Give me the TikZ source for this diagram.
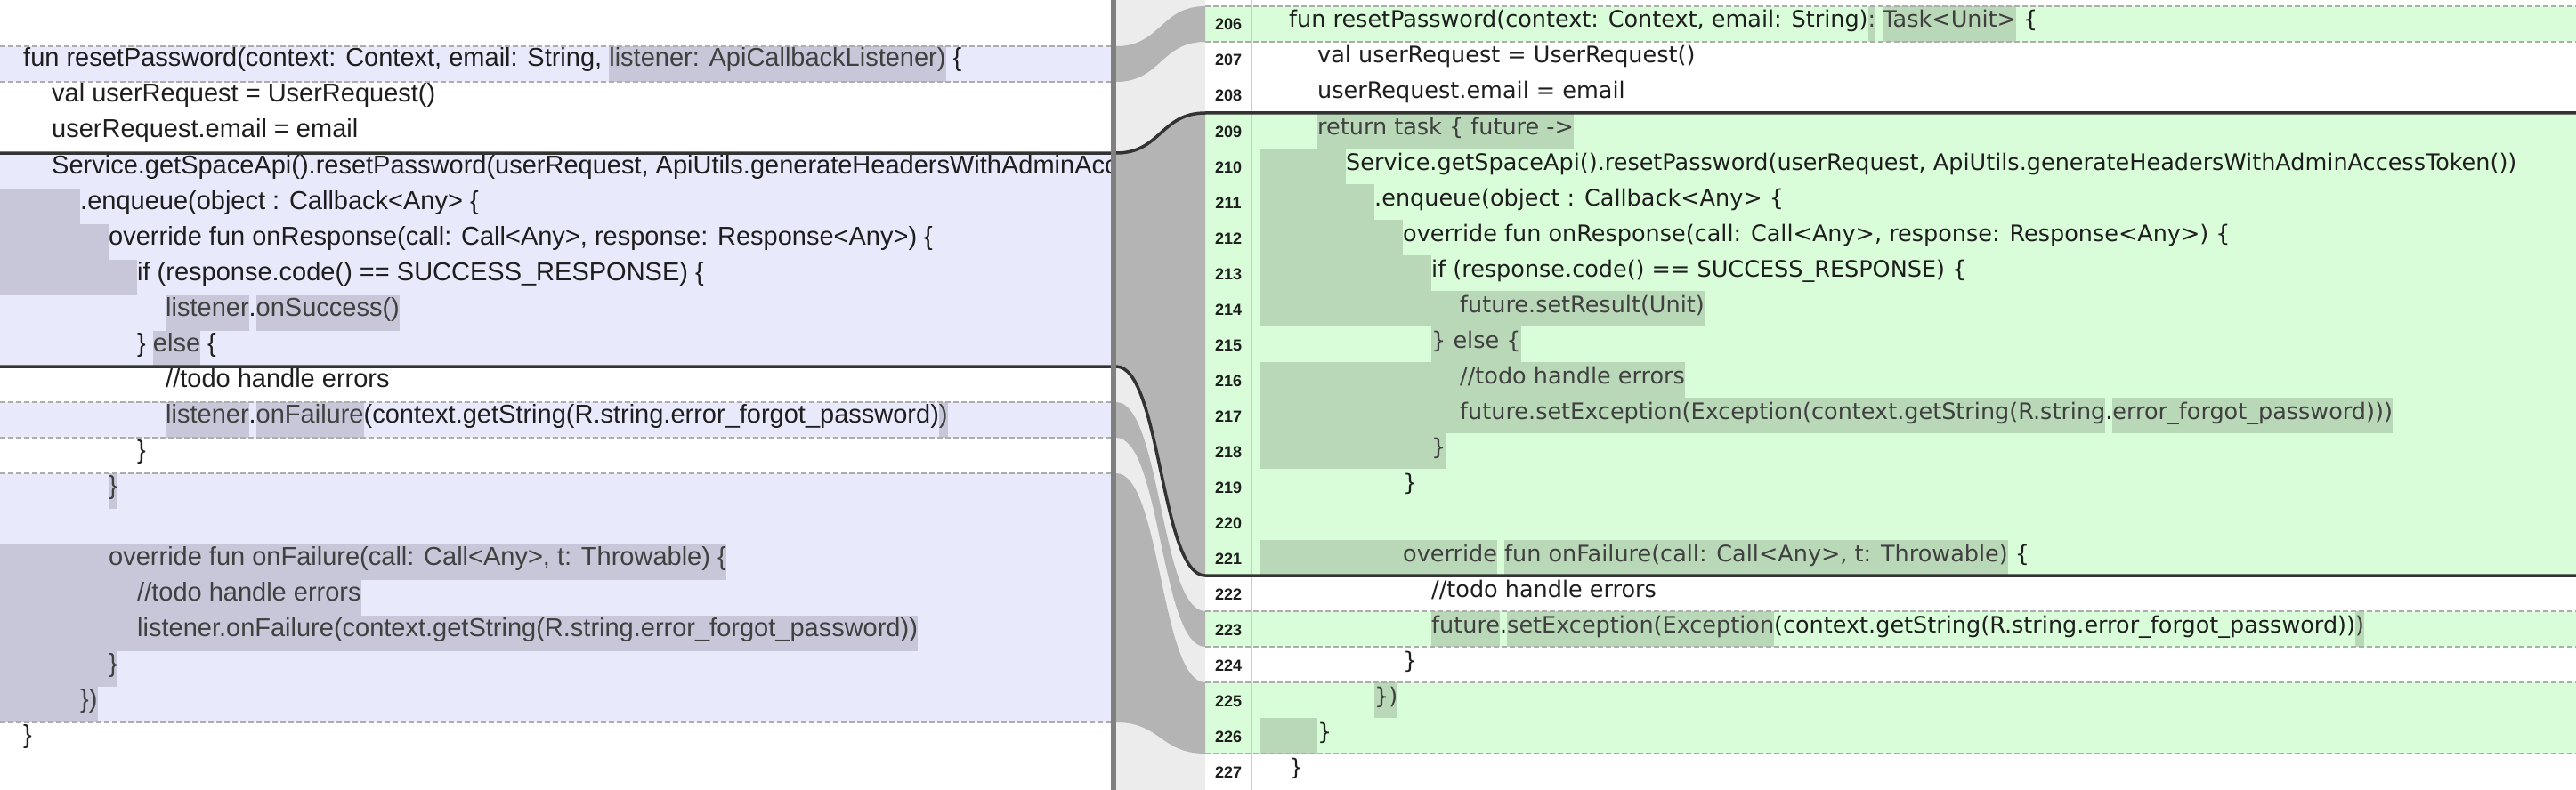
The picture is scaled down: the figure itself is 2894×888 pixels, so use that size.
\documentclass[tikz,border=0pt]{standalone}
\usepackage{fontspec}
\setmainfont{Liberation Sans}
\newfontfamily\rfont{DejaVu Sans}
\definecolor{lbg}{HTML}{E9E9FC}
\definecolor{lhl}{HTML}{C7C7D9}
\definecolor{rbg}{HTML}{D9FDD9}
\definecolor{rhl}{HTML}{B8D8B8}
\definecolor{gut}{HTML}{ECECEC}
\definecolor{rib}{HTML}{B4B4B4}
\definecolor{txt}{HTML}{1E1E1E}
\newcommand\hb[1]{{\setlength\fboxsep{0pt}\colorbox{lhl}{\rule[-17pt]{0pt}{40pt}\color{black!75}#1}}}
\newcommand\hg[1]{{\setlength\fboxsep{0pt}\colorbox{rhl}{\rule[-16pt]{0pt}{40pt}\color{black!75}#1}}}
\begin{document}
\begin{tikzpicture}[x=1pt,y=-1pt,
  code/.style={anchor=base west,inner sep=0pt,font=\fontsize{29}{40}\selectfont,text=txt},
  rcode/.style={anchor=base west,inner sep=0pt,font=\rfont\fontsize{25.5}{40}\selectfont,text=txt},
  num/.style={anchor=base,inner sep=0pt,font=\fontsize{18}{20}\selectfont\bfseries,text=txt},
  dsh/.style={draw=black!32,line width=1.6pt,dash pattern=on 6pt off 3pt},
  thick line/.style={draw=black!80,line width=3.5pt},
  lead/.style={fill=lhl,draw=none},
  rlead/.style={fill=rhl,draw=none}]
\useasboundingbox (0,0) rectangle (2894,888);
\fill[white] (0,0) rectangle (2894,888);
% left backgrounds
\fill[lbg] (0,52) rectangle (1248,92);
\fill[lbg] (0,172) rectangle (1248,412);
\fill[lbg] (0,452) rectangle (1248,492);
\fill[lbg] (0,532) rectangle (1248,812);
% right backgrounds
\fill[rbg] (1354,7) rectangle (2894,47);
\fill[rbg] (1354,127) rectangle (2894,647);
\fill[rbg] (1354,687) rectangle (2894,727);
\fill[rbg] (1354,767) rectangle (2894,847);
% left leading highlights
\fill[lead] (0,212) rectangle (90,252);
\fill[lead] (0,252) rectangle (122,292);
\fill[lead] (0,292) rectangle (154,332);
\fill[lead] (0,612) rectangle (122,652);
\fill[lead] (0,652) rectangle (154,692);
\fill[lead] (0,692) rectangle (154,732);
\fill[lead] (0,732) rectangle (122,772);
\fill[lead] (0,772) rectangle (90,812);
% right leading highlights
\fill[rlead] (1416,167) rectangle (1512,207);
\fill[rlead] (1416,207) rectangle (1544,247);
\fill[rlead] (1416,247) rectangle (1576,287);
\fill[rlead] (1416,287) rectangle (1608,327);
\fill[rlead] (1416,327) rectangle (1640,367);
\fill[rlead] (1416,407) rectangle (1640,447);
\fill[rlead] (1416,447) rectangle (1640,487);
\fill[rlead] (1416,487) rectangle (1608,527);
\fill[rlead] (1416,607) rectangle (1576,647);
\fill[rlead] (1416,807) rectangle (1480,847);
% left code
\begin{scope}
\clip (0,0) rectangle (1248,888);
\node[code] (l0) at (26,75) {fun resetPassword(context: Context, email: String, \hb{listener: ApiCallbackListener)} \{};
\node[code] (l1) at (58,115) {val userRequest = UserRequest()};
\node[code] (l2) at (58,155) {userRequest.email = email};
\node[code] (l3) at (58,195) {Service.getSpaceApi().resetPassword(userRequest, ApiUtils.generateHeadersWithAdminAccessToken())};
\node[code] (l4) at (90,235) {.enqueue(object : Callback<Any> \{};
\node[code] (l5) at (122,275) {override fun onResponse(call: Call<Any>, response: Response<Any>) \{};
\node[code] (l6) at (154,315) {if (response.code() == SUCCESS\_RESPONSE) \{};
\node[code] (l7) at (186,355) {\hb{listener}.\hb{onSuccess()}};
\node[code] (l8) at (154,395) {\} \hb{else} \{};
\node[code] (l9) at (186,435) {//todo handle errors};
\node[code] (l10) at (186,475) {\hb{listener}.\hb{onFailure}(context.getString(R.string.error\_forgot\_password)\hb{)}};
\node[code] (l11) at (154,515) {\}};
\node[code] (l12) at (122,555) {\hb{\}}};
\node[code] (l14) at (122,635) {\hb{override fun onFailure(call: Call<Any>, t: Throwable) \{}};
\node[code] (l15) at (154,675) {\hb{//todo handle errors}};
\node[code] (l16) at (154,715) {\hb{listener.onFailure(context.getString(R.string.error\_forgot\_password))}};
\node[code] (l17) at (122,755) {\hb{\}}};
\node[code] (l18) at (90,795) {\hb{\})}};
\node[code] (l19) at (26,835) {\}};
\end{scope}
% right code
\node[rcode] (r206) at (1448,31) {fun resetPassword(context: Context, email: String)\hg{:} \hg{Task<Unit>} \{};
\node[rcode] (r207) at (1480,71) {val userRequest = UserRequest()};
\node[rcode] (r208) at (1480,111) {userRequest.email = email};
\node[rcode] (r209) at (1480,151) {\hg{return task \{ future ->}};
\node[rcode] (r210) at (1512,191) {Service.getSpaceApi().resetPassword(userRequest, ApiUtils.generateHeadersWithAdminAccessToken())};
\node[rcode] (r211) at (1544,231) {.enqueue(object : Callback<Any> \{};
\node[rcode] (r212) at (1576,271) {override fun onResponse(call: Call<Any>, response: Response<Any>) \{};
\node[rcode] (r213) at (1608,311) {if (response.code() == SUCCESS\_RESPONSE) \{};
\node[rcode] (r214) at (1640,351) {\hg{future.setResult(Unit)}};
\node[rcode] (r215) at (1608,391) {\hg{\} else \{}};
\node[rcode] (r216) at (1640,431) {\hg{//todo handle errors}};
\node[rcode] (r217) at (1640,471) {\hg{future.setException(Exception(context.getString(R.string}.\hg{error\_forgot\_password)))}};
\node[rcode] (r218) at (1608,511) {\hg{\}}};
\node[rcode] (r219) at (1576,551) {\}};
\node[rcode] (r221) at (1576,631) {\hg{override} \hg{fun onFailure(call: Call<Any>, t: Throwable)} \{};
\node[rcode] (r222) at (1608,671) {//todo handle errors};
\node[rcode] (r223) at (1608,711) {\hg{future}.\hg{setException(Exception}(context.getString(R.string.error\_forgot\_password))\hg{)}};
\node[rcode] (r224) at (1576,751) {\}};
\node[rcode] (r225) at (1544,791) {\hg{\})}};
\node[rcode] (r226) at (1480,831) {\}};
\node[rcode] (r227) at (1448,871) {\}};
% line numbers
\foreach \n [count=\i from 0] in {206,...,227}
  \node[num] (n\n) at (1380,{34+40*\i}) {\n};
\draw[black!20,line width=2pt] (1406,0) -- (1406,888);
% dashed lines
\foreach \y in {52,92,452,492,532,812} \draw[dsh] (0,\y) -- (1248,\y);
\foreach \y in {7,47,687,727,767,847} \draw[dsh] (1354,\y) -- (2894,\y);
% gutter
\fill[gut] (1254,0) rectangle (1354,888);
\fill[rib] (1254,52) .. controls (1304,52) and (1304,7) .. (1354,7) -- (1354,47) .. controls (1304,47) and (1304,92) .. (1254,92) -- cycle;
\fill[rib] (1254,172) .. controls (1304,172) and (1304,127) .. (1354,127) -- (1354,647) .. controls (1304,647) and (1304,412) .. (1254,412) -- cycle;
\fill[rib] (1254,452) .. controls (1304,452) and (1304,687) .. (1354,687) -- (1354,727) .. controls (1304,727) and (1304,492) .. (1254,492) -- cycle;
\fill[rib] (1254,532) .. controls (1304,532) and (1304,767) .. (1354,767) -- (1354,847) .. controls (1304,847) and (1304,812) .. (1254,812) -- cycle;
% thick lines
\draw[thick line] (0,172) -- (1254,172) .. controls (1304,172) and (1304,127) .. (1354,127) -- (2894,127);
\draw[thick line] (0,412) -- (1254,412) .. controls (1304,412) and (1304,647) .. (1354,647) -- (2894,647);
% divider bar
\fill[black!50] (1248,0) rectangle (1254,888);
\end{tikzpicture}
\end{document}
